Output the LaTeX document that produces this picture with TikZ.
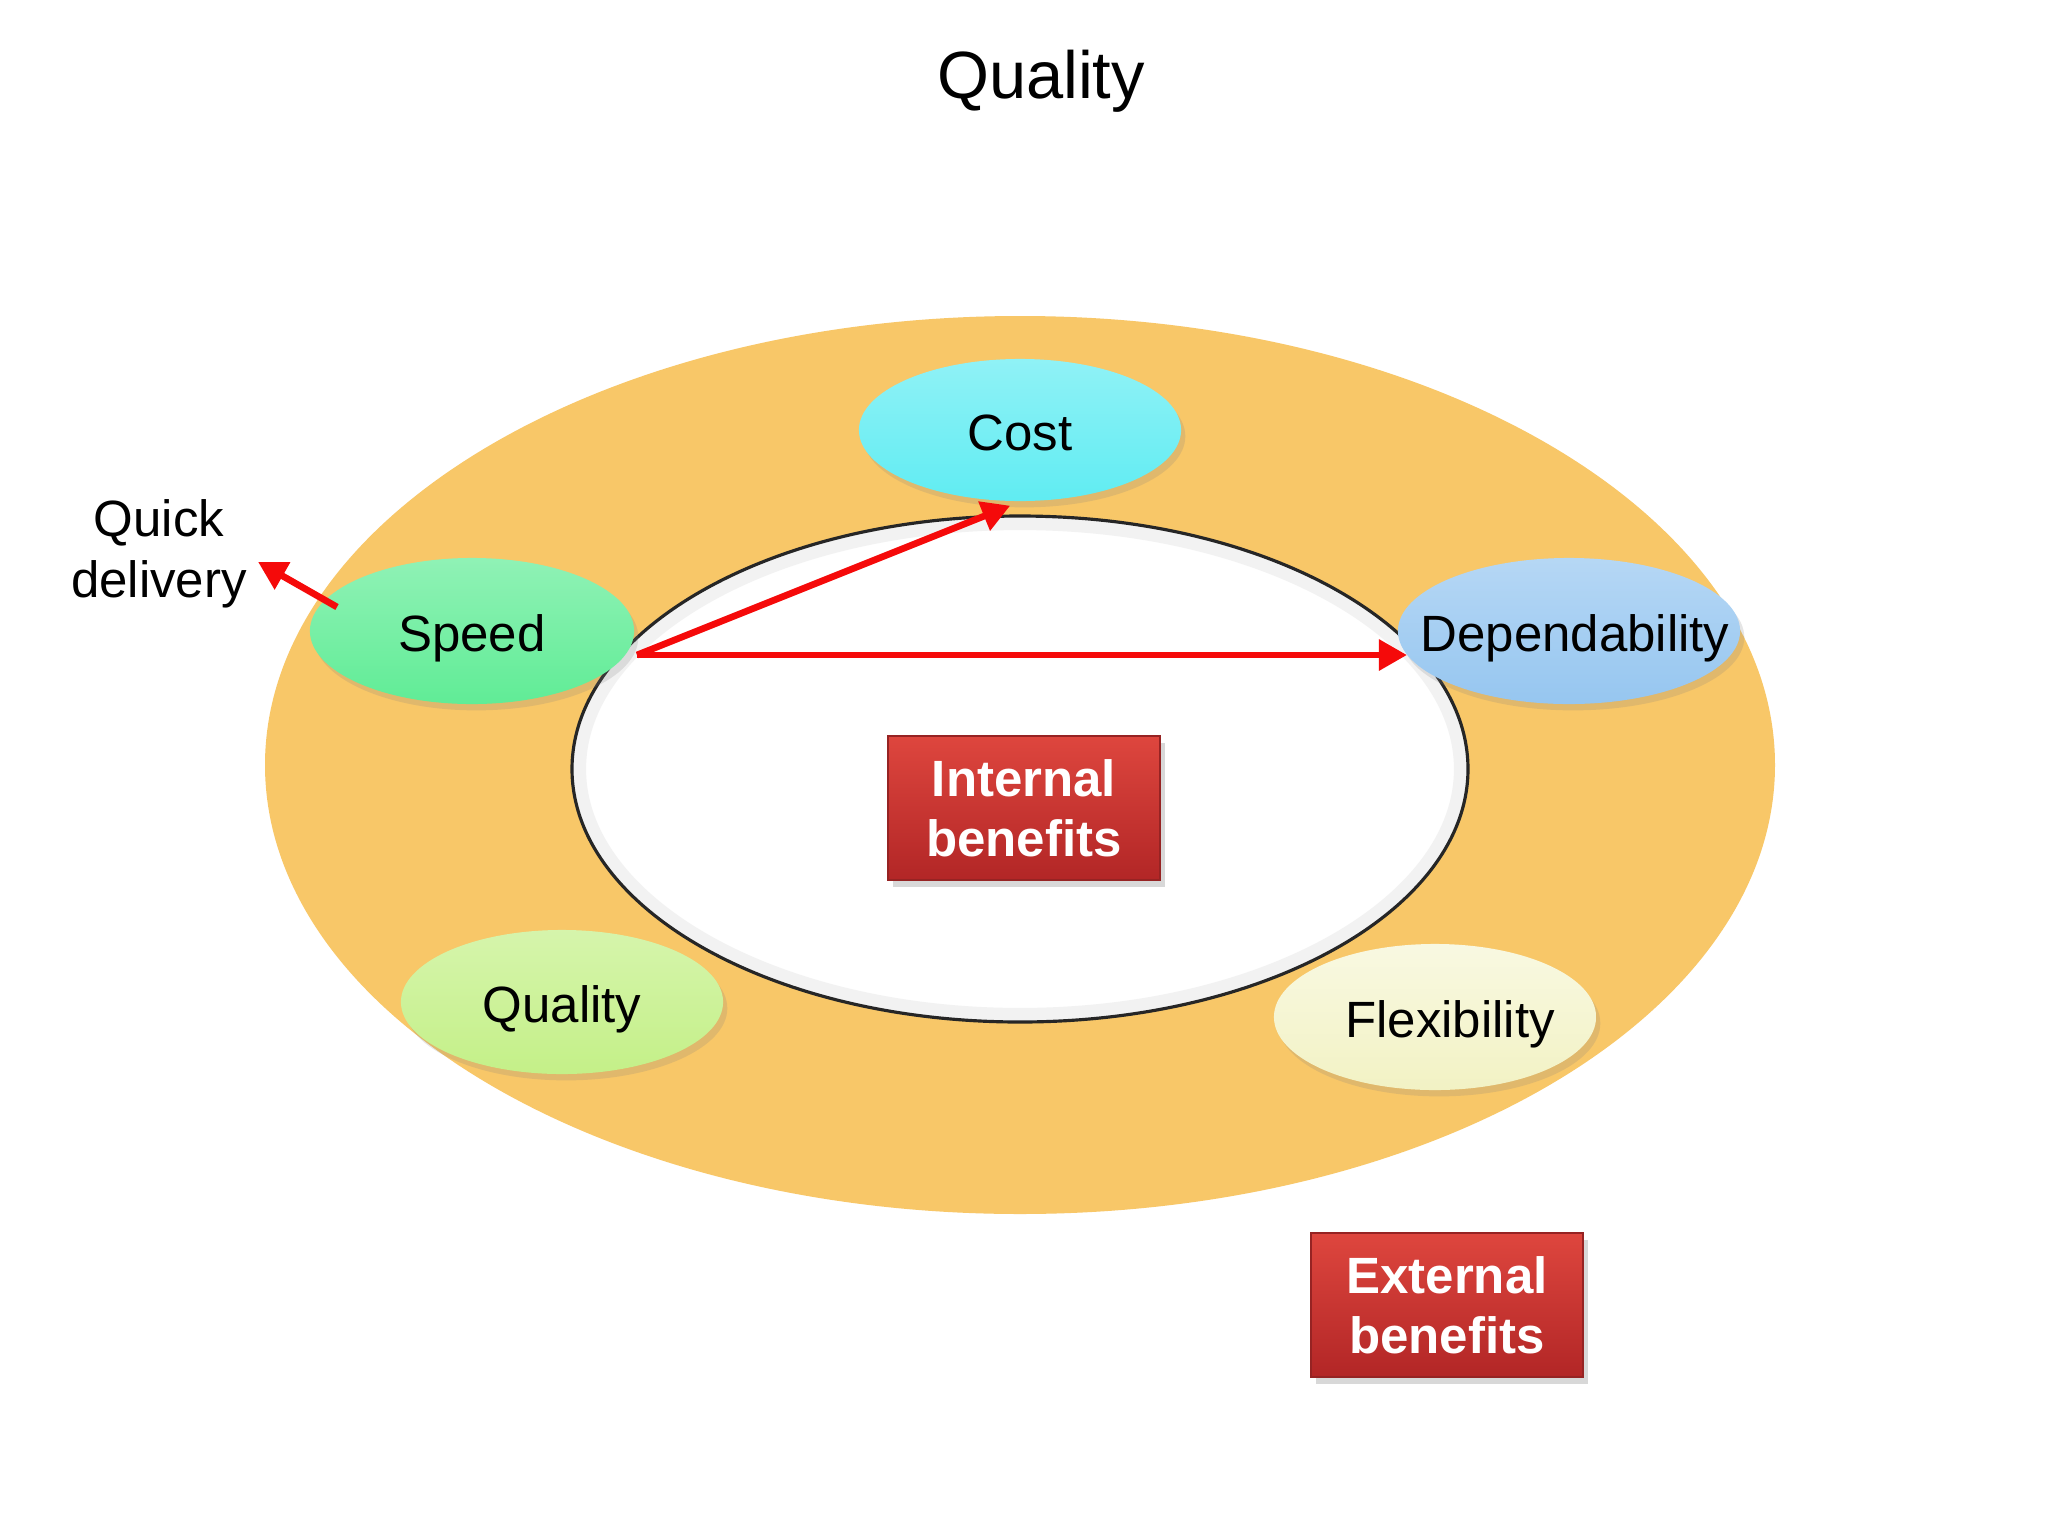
\documentclass[tikz,border=0pt]{standalone}
\usepackage{fontspec}
\setmainfont{Liberation Sans}
\usetikzlibrary{shapes.geometric,shadows,arrows.meta,calc}
\definecolor{ringc}{RGB}{248,199,104}
\definecolor{costc}{RGB}{96,236,242}
\definecolor{speedc}{RGB}{96,236,150}
\definecolor{depc}{RGB}{150,198,240}
\definecolor{qualc}{RGB}{196,240,136}
\definecolor{flexc}{RGB}{242,242,196}
\definecolor{boxtop}{RGB}{222,70,62}
\definecolor{boxbot}{RGB}{178,38,38}
\definecolor{boxline}{RGB}{150,35,35}
\definecolor{arr}{RGB}{245,10,10}
\begin{document}
\begin{tikzpicture}[x=0.01cm,y=-0.01cm,
  oval/.style={ellipse, inner sep=0pt, font=\fontsize{14.5}{17}\selectfont,
    text height=13.2pt, text depth=1.8pt,
    drop shadow={opacity=0.2, shadow xshift=1.2pt, shadow yshift=-1.8pt}},
  benefit/.style={rectangle, inner sep=0pt, minimum width=2.72cm, minimum height=1.44cm,
    align=center, text=white, font=\fontsize{14.5}{17}\selectfont\bfseries,
    top color=boxtop, bottom color=boxbot, draw=boxline, line width=0.4pt,
    drop shadow={opacity=0.3, shadow xshift=1.5pt, shadow yshift=-2pt}},
  redarrow/.style={draw=arr, line width=1.9pt, -{Triangle[length=8pt,width=8.5pt]}}]
\useasboundingbox[fill=white] (0,0) rectangle (2048,1536);

% title
\node[font=\fontsize{19}{22}\selectfont] (title) at (1041,81) {Quality};

% ring
\fill[ringc] (1020,765) ellipse [x radius=755, y radius=449];
\fill[white] (1020,769) ellipse [x radius=448, y radius=253];
\begin{scope}
  \clip (1020,769) ellipse [x radius=448, y radius=253];
  \draw[black!12, line width=3pt] (1020,769) ellipse [x radius=448, y radius=253];
  \draw[black!5, line width=8pt] (1020,769) ellipse [x radius=448, y radius=253];
\end{scope}
\draw[black!85, line width=0.9pt] (1020,769) ellipse [x radius=448, y radius=253];

% ovals
\node[oval, minimum width=3.22cm, minimum height=1.42cm, top color=costc!70!white, bottom color=costc] (Cost) at (1020,430) {\makebox[0pt]{Cost}};
\node[oval, minimum width=3.24cm, minimum height=1.46cm, top color=speedc!70!white, bottom color=speedc] (Speed) at (472,631) {\makebox[0pt]{Speed}};
\node[oval, minimum width=3.42cm, minimum height=1.46cm, top color=depc!70!white, bottom color=depc] (Dep) at (1569,631) {\makebox[0pt]{\hspace{0.12cm}Dependability}};
\node[oval, minimum width=3.22cm, minimum height=1.44cm, top color=qualc!70!white, bottom color=qualc] (Qual) at (562,1002) {\makebox[0pt]{Quality}};
\node[oval, minimum width=3.22cm, minimum height=1.46cm, top color=flexc!50!white, bottom color=flexc] (Flex) at (1435,1017) {\makebox[0pt]{\hspace{0.3cm}Flexibility}};

% boxes
\node[benefit] (Int) at (1024,808) {Internal\\benefits};
\node[benefit] (Ext) at (1447,1305) {External\\benefits};

% quick delivery
\node[align=center, inner sep=3pt, font=\fontsize{14.5}{17.4}\selectfont] (QD) at (159,554) {Quick\\delivery};

% arrows
\draw[redarrow, shorten >=3pt] ($(Speed.center)+(165,24)$) -- (Cost.south);
\draw[redarrow] ($(Speed.center)+(165,24)$) -- ($(Dep.center)+(-162,24)$);
\draw[redarrow] ($(Speed.center)+(-135,-24)$) -- ($(QD.east)+(0,8)$);
\end{tikzpicture}
\end{document}
